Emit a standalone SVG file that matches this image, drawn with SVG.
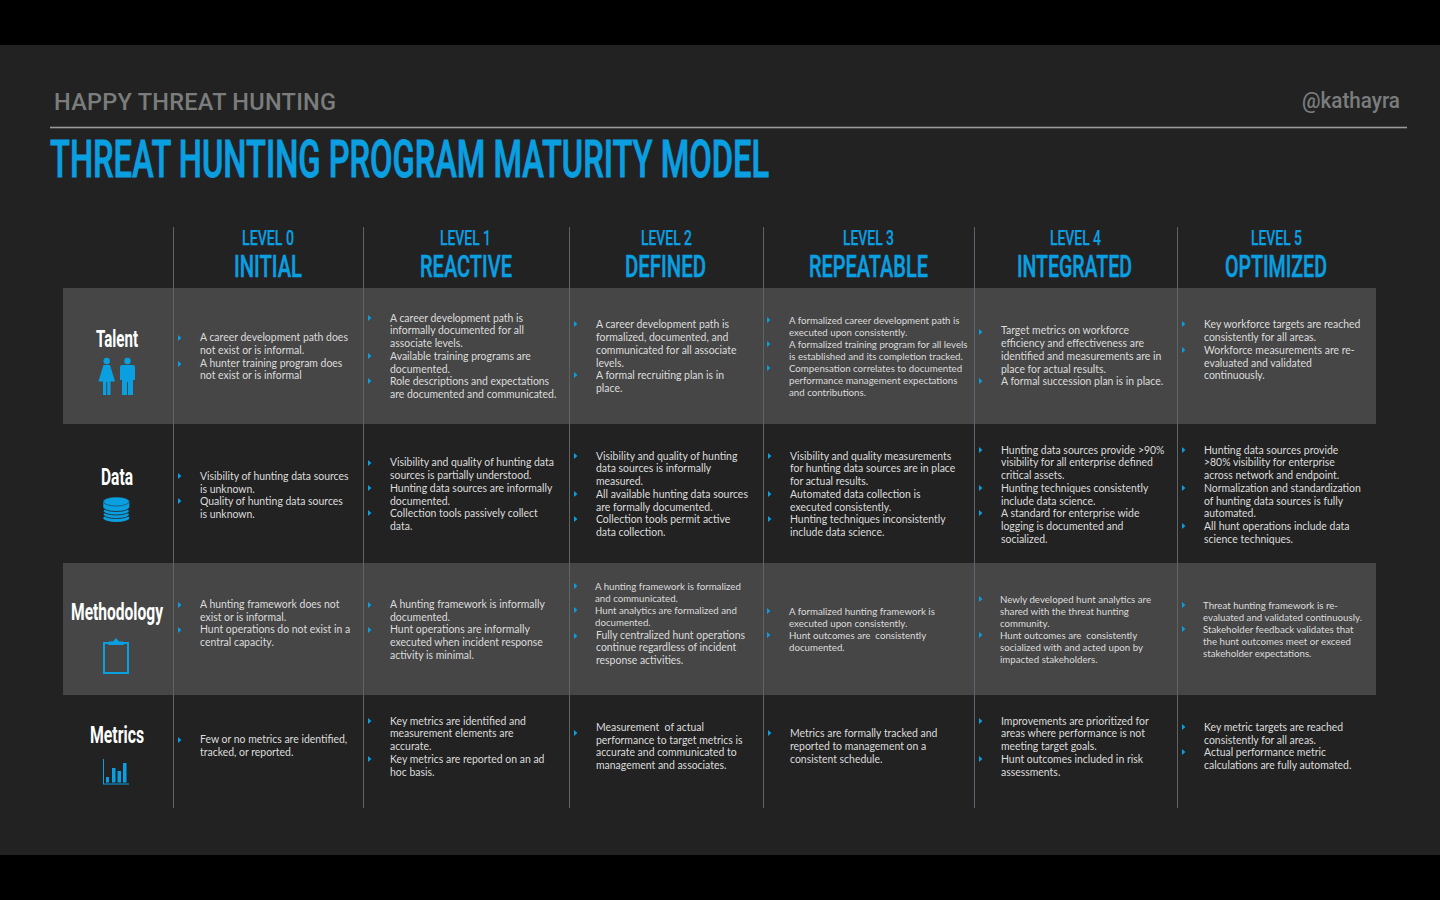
<svg xmlns="http://www.w3.org/2000/svg" width="1440" height="900" viewBox="0 0 1440 900">
<style>
.b{font-family:Lato,"Open Sans",sans-serif;font-size:10.45px;fill:#dcdcdc;white-space:pre}
.s{font-size:9.7px}
.h{font-family:Roboto,"Liberation Sans",sans-serif;fill:#0a9fe0;font-weight:500;stroke:#0a9fe0}
.l{font-size:21px;stroke-width:.25}
.n{font-size:31px;stroke-width:.5}
.r{font-family:Roboto,"Liberation Sans",sans-serif;font-size:23px;font-weight:700;fill:#fff}
.t{font-family:Roboto,"Liberation Sans",sans-serif;fill:#7b7d7d;font-weight:500}
.v{stroke:#5e6367;stroke-width:1;fill:none}
.i{fill:#0a9fe0}
</style>
<defs><polygon id="a" points="0,-3 3.4,0 0,3" fill="#0a9fe0"/></defs>
<rect width="1440" height="900" fill="#000"/>
<rect y="45" width="1440" height="810" fill="#222"/>
<g id="header">
<text class="t" x="54" y="110" font-size="23.500" textLength="282">HAPPY THREAT HUNTING</text>
<text class="t" x="1302" y="108" font-size="21.500" textLength="98" lengthAdjust="spacingAndGlyphs">@kathayra</text>
<rect x="50" y="126.700" width="1357" height="1.600" fill="#9a9a9a"/>
<text class="h" x="50" y="177" font-size="51" stroke-width="0.900" textLength="719" lengthAdjust="spacingAndGlyphs">THREAT HUNTING PROGRAM MATURITY MODEL</text>
</g>
<g id="bands" fill="#464646">
<rect x="63" y="288" width="1313" height="136"/>
<rect x="63" y="563" width="1313" height="132"/>
</g>
<g id="connectors" class="v">
<path d="M173.500 227V808M363.500 227V808M569.500 227V808M763.500 227V808M974.500 227V808M1177.500 227V808"/>
</g>
<g id="levels">
<g id="level0"><text class="h l" x="242" y="245" textLength="52" lengthAdjust="spacingAndGlyphs">LEVEL 0</text><text class="h n" x="234" y="277" textLength="68" lengthAdjust="spacingAndGlyphs">INITIAL</text></g>
<g id="level1"><text class="h l" x="440" y="245" textLength="51" lengthAdjust="spacingAndGlyphs">LEVEL 1</text><text class="h n" x="420" y="277" textLength="92" lengthAdjust="spacingAndGlyphs">REACTIVE</text></g>
<g id="level2"><text class="h l" x="641" y="245" textLength="51" lengthAdjust="spacingAndGlyphs">LEVEL 2</text><text class="h n" x="625" y="277" textLength="81" lengthAdjust="spacingAndGlyphs">DEFINED</text></g>
<g id="level3"><text class="h l" x="843" y="245" textLength="51" lengthAdjust="spacingAndGlyphs">LEVEL 3</text><text class="h n" x="809" y="277" textLength="119" lengthAdjust="spacingAndGlyphs">REPEATABLE</text></g>
<g id="level4"><text class="h l" x="1050" y="245" textLength="51" lengthAdjust="spacingAndGlyphs">LEVEL 4</text><text class="h n" x="1017" y="277" textLength="115" lengthAdjust="spacingAndGlyphs">INTEGRATED</text></g>
<g id="level5"><text class="h l" x="1251" y="245" textLength="51" lengthAdjust="spacingAndGlyphs">LEVEL 5</text><text class="h n" x="1225" y="277" textLength="102" lengthAdjust="spacingAndGlyphs">OPTIMIZED</text></g>
</g>
<g id="row-talent">
<text class="r" x="96" y="347" textLength="42" lengthAdjust="spacingAndGlyphs">Talent</text>
<g id="icon-people" class="i">
<circle cx="106.700" cy="361" r="3.200"/><path d="M103.500 365H110L115 381.500H110.500V395H107.200V382H106.200V395H103V381.500H98.400Z"/>
<circle cx="127.500" cy="361" r="3.200"/><path d="M122 365H133Q135 365 135 367V380H133V395H128V382H127V395H122V380H120V367Q120 365 122 365Z"/>
</g>
<g id="t0"><use href="#a" x="178" y="338"/><use href="#a" x="178" y="364"/><text class="b"><tspan x="200" y="341">A career development path does</tspan><tspan x="200" y="354">not exist or is informal.</tspan><tspan x="200" y="367">A hunter training program does</tspan><tspan x="200" y="379">not exist or is informal</tspan></text></g>
<g id="t1"><use href="#a" x="368" y="318"/><use href="#a" x="368" y="356"/><use href="#a" x="368" y="381"/><text class="b"><tspan x="390" y="322">A career development path is</tspan><tspan x="390" y="334">informally documented for all</tspan><tspan x="390" y="347">associate levels.</tspan><tspan x="390" y="360">Available training programs are</tspan><tspan x="390" y="373">documented.</tspan><tspan x="390" y="385">Role descriptions and expectations</tspan><tspan x="390" y="398">are documented and communicated.</tspan></text></g>
<g id="t2"><use href="#a" x="574" y="324"/><use href="#a" x="574" y="375"/><text class="b"><tspan x="596" y="328">A career development path is</tspan><tspan x="596" y="341">formalized, documented, and</tspan><tspan x="596" y="354">communicated for all associate</tspan><tspan x="596" y="367">levels.</tspan><tspan x="596" y="379">A formal recruiting plan is in</tspan><tspan x="596" y="392">place.</tspan></text></g>
<g id="t3"><use href="#a" x="767" y="320"/><use href="#a" x="767" y="344"/><use href="#a" x="767" y="368"/><text class="b s"><tspan x="789" y="324">A formalized career development path is</tspan><tspan x="789" y="336">executed upon consistently.</tspan><tspan x="789" y="348">A formalized training program for all levels</tspan><tspan x="789" y="360">is established and its completion tracked.</tspan><tspan x="789" y="372">Compensation correlates to documented</tspan><tspan x="789" y="384">performance management expectations</tspan><tspan x="789" y="396">and contributions.</tspan></text></g>
<g id="t4"><use href="#a" x="979" y="332"/><use href="#a" x="979" y="381"/><text class="b"><tspan x="1001" y="334">Target metrics on workforce</tspan><tspan x="1001" y="347">efficiency and effectiveness are</tspan><tspan x="1001" y="360">identified and measurements are in</tspan><tspan x="1001" y="373">place for actual results.</tspan><tspan x="1001" y="385">A formal succession plan is in place.</tspan></text></g>
<g id="t5"><use href="#a" x="1182" y="324"/><use href="#a" x="1182" y="350"/><text class="b"><tspan x="1204" y="328">Key workforce targets are reached</tspan><tspan x="1204" y="341">consistently for all areas.</tspan><tspan x="1204" y="354">Workforce measurements are re-</tspan><tspan x="1204" y="367">evaluated and validated</tspan><tspan x="1204" y="379">continuously.</tspan></text></g>
</g>
<g id="row-data">
<text class="r" x="101" y="485" textLength="32" lengthAdjust="spacingAndGlyphs">Data</text>
<g id="icon-db" class="i">
<ellipse cx="116.300" cy="518" rx="13" ry="4"/><ellipse cx="116.300" cy="514.500" rx="13" ry="4" stroke="#222" stroke-width="0.800"/><ellipse cx="116.300" cy="511" rx="13" ry="4" stroke="#222" stroke-width="0.800"/><ellipse cx="116.300" cy="507.500" rx="13" ry="4" stroke="#222" stroke-width="0.800"/><ellipse cx="116.300" cy="501.500" rx="13" ry="4.500"/><rect x="103.300" y="501.500" width="26" height="6"/><ellipse cx="116.300" cy="501.500" rx="13" ry="4.500" fill="none" stroke="#222" stroke-width="0.500"/>
</g>
<g id="d0"><use href="#a" x="178" y="476"/><use href="#a" x="178" y="501"/><text class="b"><tspan x="200" y="479.500">Visibility of hunting data sources</tspan><tspan x="200" y="492.500">is unknown.</tspan><tspan x="200" y="505">Quality of hunting data sources</tspan><tspan x="200" y="517.500">is unknown.</tspan></text></g>
<g id="d1"><use href="#a" x="368" y="463"/><use href="#a" x="368" y="488"/><use href="#a" x="368" y="513"/><text class="b"><tspan x="390" y="466">Visibility and quality of hunting data</tspan><tspan x="390" y="479">sources is partially understood.</tspan><tspan x="390" y="492">Hunting data sources are informally</tspan><tspan x="390" y="505">documented.</tspan><tspan x="390" y="517">Collection tools passively collect</tspan><tspan x="390" y="530">data.</tspan></text></g>
<g id="d2"><use href="#a" x="574" y="456"/><use href="#a" x="574" y="494"/><use href="#a" x="574" y="519"/><text class="b"><tspan x="596" y="460">Visibility and quality of hunting</tspan><tspan x="596" y="472">data sources is informally</tspan><tspan x="596" y="485">measured.</tspan><tspan x="596" y="498">All available hunting data sources</tspan><tspan x="596" y="511">are formally documented.</tspan><tspan x="596" y="523">Collection tools permit active</tspan><tspan x="596" y="536">data collection.</tspan></text></g>
<g id="d3"><use href="#a" x="768" y="456"/><use href="#a" x="768" y="494"/><use href="#a" x="768" y="519"/><text class="b"><tspan x="790" y="460">Visibility and quality measurements</tspan><tspan x="790" y="472">for hunting data sources are in place</tspan><tspan x="790" y="485">for actual results.</tspan><tspan x="790" y="498">Automated data collection is</tspan><tspan x="790" y="511">executed consistently.</tspan><tspan x="790" y="523">Hunting techniques inconsistently</tspan><tspan x="790" y="536">include data science.</tspan></text></g>
<g id="d4"><use href="#a" x="979" y="450"/><use href="#a" x="979" y="488"/><use href="#a" x="979" y="513"/><text class="b"><tspan x="1001" y="454">Hunting data sources provide &gt;90%</tspan><tspan x="1001" y="466">visibility for all enterprise defined</tspan><tspan x="1001" y="479">critical assets.</tspan><tspan x="1001" y="492">Hunting techniques consistently</tspan><tspan x="1001" y="505">include data science.</tspan><tspan x="1001" y="517">A standard for enterprise wide</tspan><tspan x="1001" y="530">logging is documented and</tspan><tspan x="1001" y="543">socialized.</tspan></text></g>
<g id="d5"><use href="#a" x="1182" y="450"/><use href="#a" x="1182" y="488"/><use href="#a" x="1182" y="526"/><text class="b"><tspan x="1204" y="454">Hunting data sources provide</tspan><tspan x="1204" y="466">&gt;80% visibility for enterprise</tspan><tspan x="1204" y="479">across network and endpoint.</tspan><tspan x="1204" y="492">Normalization and standardization</tspan><tspan x="1204" y="505">of hunting data sources is fully</tspan><tspan x="1204" y="517">automated.</tspan><tspan x="1204" y="530">All hunt operations include data</tspan><tspan x="1204" y="543">science techniques.</tspan></text></g>
</g>
<g id="row-methodology">
<text class="r" x="71" y="620" textLength="92" lengthAdjust="spacingAndGlyphs">Methodology</text>
<g id="icon-clipboard">
<rect x="104" y="643" width="24" height="30" fill="none" stroke="#0a9fe0" stroke-width="2"/><path class="i" d="M108 645L109 641.500H113L116 638L119 641.500H123L124 645Z"/>
</g>
<g id="m0"><use href="#a" x="178" y="605"/><use href="#a" x="178" y="630"/><text class="b"><tspan x="200" y="608">A hunting framework does not</tspan><tspan x="200" y="621">exist or is informal.</tspan><tspan x="200" y="633">Hunt operations do not exist in a</tspan><tspan x="200" y="646">central capacity.</tspan></text></g>
<g id="m1"><use href="#a" x="368" y="605"/><use href="#a" x="368" y="630"/><text class="b"><tspan x="390" y="608">A hunting framework is informally</tspan><tspan x="390" y="621">documented.</tspan><tspan x="390" y="633">Hunt operations are informally</tspan><tspan x="390" y="646">executed when incident response</tspan><tspan x="390" y="659">activity is minimal.</tspan></text></g>
<g id="m2"><use href="#a" x="574" y="586"/><use href="#a" x="574" y="610"/><use href="#a" x="574" y="636"/><text class="b s"><tspan x="595" y="590">A hunting framework is formalized</tspan><tspan x="595" y="602">and communicated.</tspan><tspan x="595" y="614">Hunt analytics are formalized and</tspan><tspan x="595" y="626">documented.</tspan></text><text class="b"><tspan x="596" y="639">Fully centralized hunt operations</tspan><tspan x="596" y="651">continue regardless of incident</tspan><tspan x="596" y="664">response activities.</tspan></text></g>
<g id="m3"><use href="#a" x="767" y="611"/><use href="#a" x="767" y="635"/><text class="b s"><tspan x="789" y="615">A formalized hunting framework is</tspan><tspan x="789" y="627">executed upon consistently.</tspan><tspan x="789" y="639">Hunt outcomes are  consistently</tspan><tspan x="789" y="651">documented.</tspan></text></g>
<g id="m4"><use href="#a" x="979" y="599"/><use href="#a" x="979" y="635"/><text class="b s"><tspan x="1000" y="603">Newly developed hunt analytics are</tspan><tspan x="1000" y="615">shared with the threat hunting</tspan><tspan x="1000" y="627">community.</tspan><tspan x="1000" y="639">Hunt outcomes are  consistently</tspan><tspan x="1000" y="651">socialized with and acted upon by</tspan><tspan x="1000" y="663">impacted stakeholders.</tspan></text></g>
<g id="m5"><use href="#a" x="1182" y="605"/><use href="#a" x="1182" y="629"/><text class="b s"><tspan x="1203" y="609">Threat hunting framework is re-</tspan><tspan x="1203" y="621">evaluated and validated continuously.</tspan><tspan x="1203" y="633">Stakeholder feedback validates that</tspan><tspan x="1203" y="645">the hunt outcomes meet or exceed</tspan><tspan x="1203" y="657">stakeholder expectations.</tspan></text></g>
</g>
<g id="row-metrics">
<text class="r" x="90" y="743" textLength="54" lengthAdjust="spacingAndGlyphs">Metrics</text>
<g id="icon-chart" class="i">
<path d="M103 759H104V783.500H129V784.500H103Z"/><rect x="106" y="777" width="3" height="5.500"/><rect x="112" y="768" width="3.500" height="14.500"/><rect x="117.500" y="771" width="3.500" height="11.500"/><rect x="123" y="763" width="3.500" height="19.500"/>
</g>
<g id="x0"><use href="#a" x="178" y="740"/><text class="b"><tspan x="200" y="743">Few or no metrics are identified,</tspan><tspan x="200" y="756">tracked, or reported.</tspan></text></g>
<g id="x1"><use href="#a" x="368" y="721"/><use href="#a" x="368" y="759"/><text class="b"><tspan x="390" y="725">Key metrics are identified and</tspan><tspan x="390" y="737">measurement elements are</tspan><tspan x="390" y="750">accurate.</tspan><tspan x="390" y="763">Key metrics are reported on an ad</tspan><tspan x="390" y="776">hoc basis.</tspan></text></g>
<g id="x2"><use href="#a" x="574" y="733"/><text class="b"><tspan x="596" y="731">Measurement  of actual</tspan><tspan x="596" y="744">performance to target metrics is</tspan><tspan x="596" y="756">accurate and communicated to</tspan><tspan x="596" y="769">management and associates.</tspan></text></g>
<g id="x3"><use href="#a" x="768" y="733"/><text class="b"><tspan x="790" y="737">Metrics are formally tracked and</tspan><tspan x="790" y="750">reported to management on a</tspan><tspan x="790" y="763">consistent schedule.</tspan></text></g>
<g id="x4"><use href="#a" x="979" y="721"/><use href="#a" x="979" y="759"/><text class="b"><tspan x="1001" y="725">Improvements are prioritized for</tspan><tspan x="1001" y="737">areas where performance is not</tspan><tspan x="1001" y="750">meeting target goals.</tspan><tspan x="1001" y="763">Hunt outcomes included in risk</tspan><tspan x="1001" y="776">assessments.</tspan></text></g>
<g id="x5"><use href="#a" x="1182" y="727"/><use href="#a" x="1182" y="752"/><text class="b"><tspan x="1204" y="731">Key metric targets are reached</tspan><tspan x="1204" y="744">consistently for all areas.</tspan><tspan x="1204" y="756">Actual performance metric</tspan><tspan x="1204" y="769">calculations are fully automated.</tspan></text></g>
</g>
</svg>
